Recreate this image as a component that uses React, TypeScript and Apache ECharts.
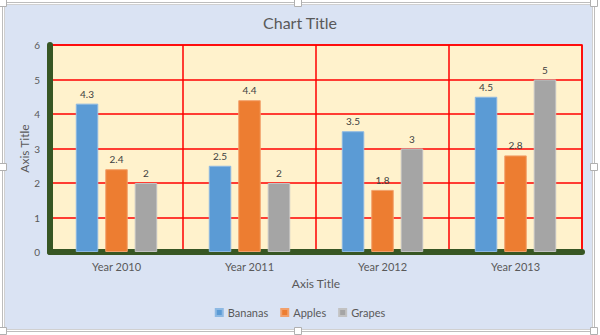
import React, { useEffect, useRef } from "react";
import * as echarts from "echarts";

const categories = ["Year 2010", "Year 2011", "Year 2012", "Year 2013"];
const bananas = [4.3, 2.5, 3.5, 4.5];
const apples = [2.4, 4.4, 1.8, 2.8];
const grapes = [2, 2, 3, 5];
const seriesNames = ["Bananas", "Apples", "Grapes"];

const FONT = "Lato, 'Open Sans', sans-serif";

export default function App() {
  const ref = useRef<HTMLDivElement>(null);
  useEffect(() => {
    if (!ref.current) return;
    const chart = echarts.init(ref.current, null, { renderer: "svg" });
    const handle = (cx: number, cy: number) => ({
      type: "rect",
      shape: { x: cx - 3.5, y: cy - 3.5, width: 7, height: 7 },
      style: { fill: "#ffffff", stroke: "#b0b0b0", lineWidth: 1 },
      z: 10,
    });
    const label = {
      show: true,
      position: "top" as const,
      distance: 5,
      fontSize: 10,
      color: "#404040",
      fontFamily: FONT,
    };
    const mk = (name: string, data: number[], color: string, border: string) => ({
      name,
      type: "bar" as const,
      data,
      barWidth: 22.5,
      barGap: "31%",
      itemStyle: { color, borderColor: border, borderWidth: 1 },
      label,
    });
    chart.setOption({
      animation: false,
      backgroundColor: "#ffffff",
      textStyle: { fontFamily: FONT },
      graphic: [
        {
          type: "rect",
          shape: { x: 2.5, y: 2.5, width: 592, height: 329 },
          style: { fill: "#ffffff", stroke: "#bdbdbd", lineWidth: 1 },
          z: -10,
        },
        {
          type: "rect",
          shape: { x: 4.5, y: 4.5, width: 588, height: 325 },
          style: { fill: "#DAE3F3", stroke: "#d0d0d0", lineWidth: 1 },
          z: -9,
        },
        handle(3, 3),
        handle(298, 3),
        handle(594, 3),
        handle(3, 167),
        handle(594, 167),
        handle(3, 331),
        handle(298, 331),
        handle(594, 331),
      ],
      title: {
        text: "Chart Title",
        left: "center",
        top: 9,
        textStyle: { fontSize: 16, fontWeight: "normal", color: "#595959", fontFamily: FONT },
      },
      legend: {
        data: seriesNames,
        bottom: 12,
        left: "center",
        itemWidth: 7,
        itemHeight: 7,
        itemGap: 12,
        icon: "rect",
        textStyle: { fontSize: 11, color: "#595959", fontFamily: FONT },
      },
      grid: {
        left: 50,
        right: 18,
        top: 45,
        bottom: 83,
        show: true,
        backgroundColor: "#FFF2CC",
        borderColor: "#FF0000",
        borderWidth: 1.5,
      },
      xAxis: {
        type: "category",
        data: categories,
        name: "Axis Title",
        nameLocation: "middle",
        nameGap: 25,
        nameMoveOverlap: false,
        nameTextStyle: { fontSize: 12, color: "#595959", fontFamily: FONT },
        axisLine: { show: true, lineStyle: { color: "#375623", width: 6 } },
        axisTick: { show: false },
        axisLabel: { fontSize: 11, color: "#595959", margin: 9, fontFamily: FONT },
        splitLine: { show: true, lineStyle: { color: "#FF0000", width: 1.5 } },
      },
      yAxis: {
        type: "value",
        min: 0,
        max: 6,
        interval: 1,
        name: "Axis Title",
        nameLocation: "middle",
        nameGap: 20,
        nameMoveOverlap: false,
        nameTextStyle: { fontSize: 12, color: "#595959", fontFamily: FONT },
        axisLine: { show: true, lineStyle: { color: "#375623", width: 6 } },
        axisTick: { show: false },
        axisLabel: { fontSize: 10, color: "#595959", margin: 10, fontFamily: FONT },
        splitLine: { show: true, lineStyle: { color: "#FF0000", width: 1.5 } },
      },
      series: [
        mk(seriesNames[0], bananas, "#5B9BD5", "#8DB9E3"),
        mk(seriesNames[1], apples, "#ED7D31", "#F2A06B"),
        mk(seriesNames[2], grapes, "#A5A5A5", "#C2C2C2"),
      ],
    });
    return () => chart.dispose();
  }, []);
  return (
    <div
      ref={ref}
      style={{ position: "absolute", left: 0, top: 0, width: 600, height: 335 }}
    />
  );
}
